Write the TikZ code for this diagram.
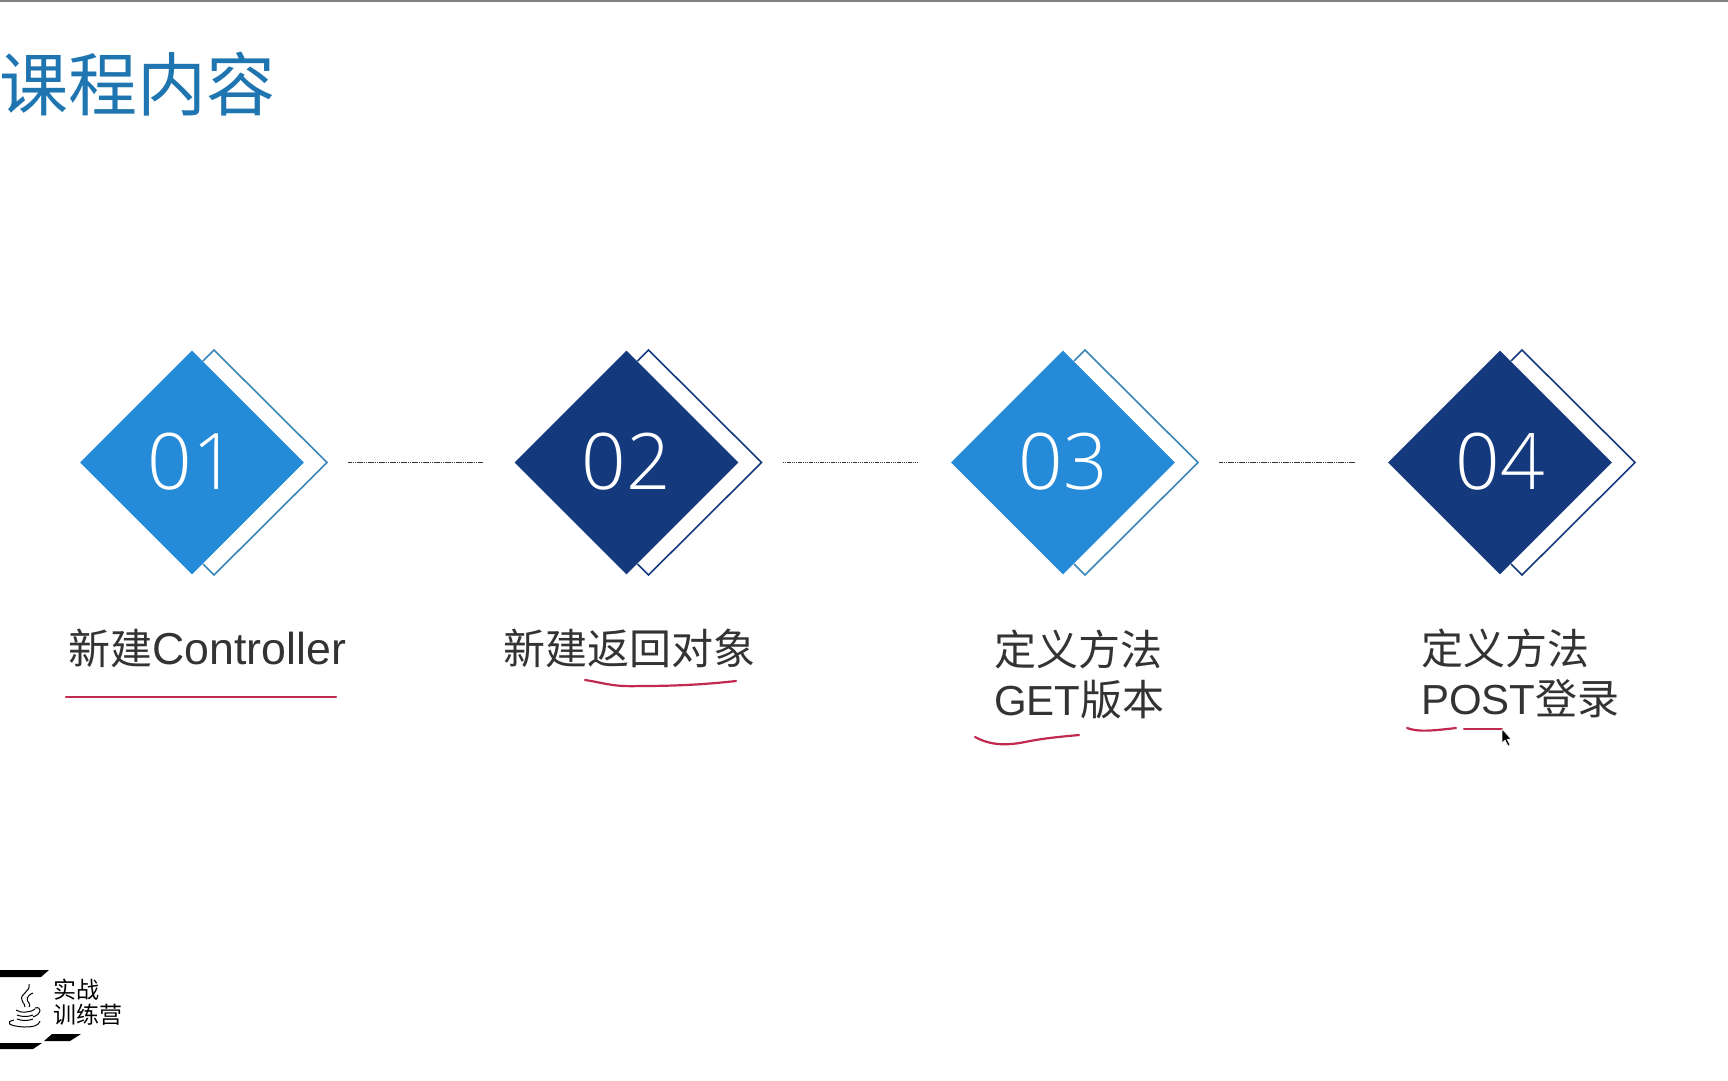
\documentclass[tikz,border=0pt]{standalone}
\usepackage{fontspec}
\setmainfont{Liberation Sans}
\newfontfamily\cjk{Noto Sans CJK SC}
\newfontfamily\digits{Open Sans Light}
\usetikzlibrary{shapes.geometric}
\definecolor{titleblue}{HTML}{1F75B0}
\definecolor{lightblue}{HTML}{258BD8}
\definecolor{darkblue}{HTML}{14397D}
\definecolor{edgeblue}{HTML}{3A86B8}
\definecolor{inkred}{HTML}{C2294E}
\definecolor{labelgray}{HTML}{333333}
\tikzset{
    badge/.style={diamond, aspect=1, minimum size=224pt, inner sep=0pt, text=white, font=\fontsize{78}{78}\selectfont\digits},
    steplabel/.style={anchor=west, align=left, inner sep=0pt, text=labelgray, font=\fontsize{42}{50}\selectfont},
    link/.style={dash pattern=on 1.5pt off 0.7pt, line width=0.8pt, black!80},
    chevron/.style={line width=1.6pt, fill=white},
    ink/.style={inkred, line width=2.2pt, line cap=round},
    logotext/.style={anchor=west, inner sep=0pt, font=\fontsize{23}{23}\selectfont}
}
\begin{document}
\begin{tikzpicture}[x=1pt,y=-1pt]

    \useasboundingbox (0,0) rectangle (1728,1080);
    \fill [gray] (0,0) rectangle (1728,1.5);

    \node [anchor=west, inner sep=0pt, text=titleblue, font=\fontsize{69}{69}\selectfont\cjk] (title) at (-1,84) {课程内容};

    \draw [chevron, draw=edgeblue] (203,361) -- (214,350) -- (327,462.5) -- (214,575) -- (203,564);
    \draw [chevron, draw=darkblue] (637.5,361) -- (648.5,350) -- (761.5,462.5) -- (648.5,575) -- (637.5,564);
    \draw [chevron, draw=edgeblue] (1074,361) -- (1085,350) -- (1198,462.5) -- (1085,575) -- (1074,564);
    \draw [chevron, draw=darkblue] (1511,361) -- (1522,350) -- (1635,462.5) -- (1522,575) -- (1511,564);

    \node [badge, fill=lightblue] (d1) at (192,462.5) {\raisebox{2pt}{01}};
    \node [badge, fill=darkblue] (d2) at (626.5,462.5) {\raisebox{2pt}{02}};
    \node [badge, fill=lightblue] (d3) at (1063,462.5) {\raisebox{2pt}{03}};
    \node [badge, fill=darkblue] (d4) at (1500,462.5) {\raisebox{2pt}{04}};

    \draw [link] ([xshift=44pt]d1.east) -- ([xshift=-31pt]d2.west);
    \draw [link] ([xshift=44pt]d2.east) -- ([xshift=-32pt]d3.west);
    \draw [link] ([xshift=44pt]d3.east) -- ([xshift=-33pt]d4.west);

    \node [steplabel] (l1) at (68,648) {{\cjk 新建}{\fontsize{44.7}{50}\selectfont Controller}};
    \node [steplabel] (l2) at (503,648) {\cjk 新建返回对象};
    \node [steplabel] (l3) at (994,674) {{\cjk 定义方法}\\GET{\cjk 版本}};
    \node [steplabel] (l4) at (1421,673) {{\cjk 定义方法}\\POST{\cjk 登录}};

    \draw [ink] (66,697) -- (336,697);
    \draw [ink] (585,680) .. controls (605,683) and (612,687) .. (640,686) .. controls (670,686) and (700,685) .. (736,681);
    \draw [ink] (975,737) .. controls (990,745) and (1005,746) .. (1025,742) .. controls (1035,740) and (1045,738) .. (1079,735);
    \draw [ink] (1407,728) .. controls (1418,732) and (1430,731) .. (1456,728);
    \draw [ink] (1464,729) -- (1502,729);

    \fill [black, draw=white, line width=0.5pt] (1502,729) -- (1502,743) -- (1505,740) -- (1508,746) -- (1510,745) -- (1507,739) -- (1511,739) -- cycle;

    \fill [black] (0,970) -- (49,970) -- (41,977) -- (0,977) -- cycle;
    \fill [black] (52,1034) -- (81,1034) -- (70,1041) -- (44,1041) -- cycle;
    \fill [black] (0,1043) -- (42,1043) -- (33,1049) -- (0,1049) -- cycle;

    \draw [line width=1pt] (29,984) .. controls (31,992) and (19,994) .. (22,1000) .. controls (23,1004) and (26,1005) .. (25,1007);
    \draw [line width=1pt] (33,993) .. controls (26,996) and (26,1000) .. (29,1003) .. controls (30,1005) and (30,1006) .. (29,1007);
    \draw [line width=1pt] (16,1010) .. controls (20,1013) and (30,1013) .. (35,1009);
    \draw [line width=1pt] (17,1015) .. controls (22,1017) and (28,1017) .. (33,1015);
    \draw [line width=1pt] (17,1019) .. controls (22,1021) and (28,1021) .. (33,1019);
    \draw [line width=1pt] (35,1008) .. controls (42,1006) and (42,1014) .. (33,1017);
    \draw [line width=1pt] (14,1020) .. controls (5,1022) and (8,1026) .. (24,1027) .. controls (32,1027) and (39,1026) .. (40,1021);

    \node [logotext] (logoa) at (53,990) {\cjk 实战};
    \node [logotext] (logob) at (53,1015) {\cjk 训练营};

\end{tikzpicture}
\end{document}
